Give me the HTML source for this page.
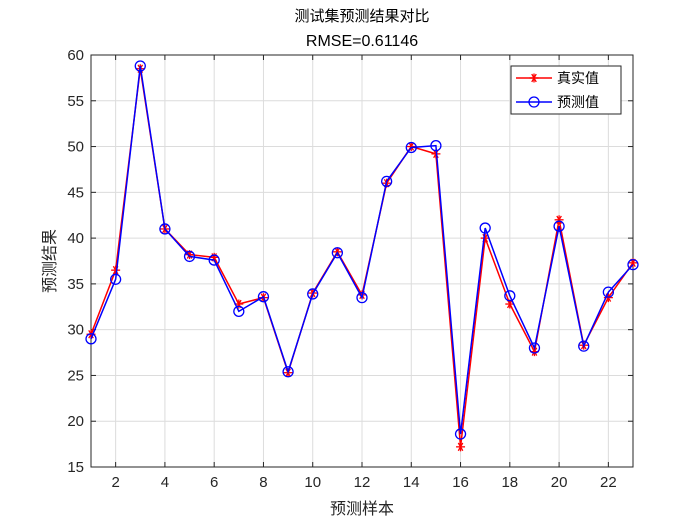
<!DOCTYPE html>
<html><head><meta charset="utf-8"><style>
body{margin:0;background:#fff;}
svg text{font-family:"Liberation Sans","Noto Sans CJK SC",sans-serif;}
</style></head><body>
<svg id="c" width="700" height="525" xmlns="http://www.w3.org/2000/svg"></svg>
<script>
const categories=[1,2,3,4,5,6,7,8,9,10,11,12,13,14,15,16,17,18,19,20,21,22,23];
const trueVals=[29.5,36.5,58.5,41.0,38.2,37.9,32.8,33.5,25.3,34.0,38.5,33.8,46.0,50.0,49.2,17.2,40.0,32.8,27.6,42.0,28.3,33.5,37.3];
const predVals=[29.0,35.5,58.8,41.0,38.0,37.6,32.0,33.6,25.4,33.9,38.4,33.5,46.2,49.9,50.1,18.6,41.1,33.7,28.0,41.3,28.2,34.1,37.1];
const xTicks=[2,4,6,8,10,12,14,16,18,20,22];
const yTicks=[15,20,25,30,35,40,45,50,55,60];
const L=91,R=633,T=55,B=467;
const X=v=>L+(v-1)/(22)*(R-L);
const Y=v=>B-(v-15)/45*(B-T);
const svg=document.getElementById('c');
const NS='http://www.w3.org/2000/svg';
function mk(t,a,p){const e=document.createElementNS(NS,t);for(const k in a)e.setAttribute(k,a[k]);(p||svg).appendChild(e);return e;}
let e;
e=mk('rect',{x:L,y:T,width:R-L,height:B-T,fill:'#fff'});


xTicks.forEach(t=>{
 e=mk('line',{x1:X(t),x2:X(t),y1:T,y2:B,stroke:'#dcdcdc','stroke-width':1});
 
 
 mk('line',{x1:X(t),x2:X(t),y1:B,y2:B-5,stroke:'#262626'});
 mk('line',{x1:X(t),x2:X(t),y1:T,y2:T+5,stroke:'#262626'});
 e=mk('text',{x:X(t),y:B+20,'text-anchor':'middle','font-size':15,fill:'#262626'});e.textContent=t;
 
 
});
yTicks.forEach(t=>{
 e=mk('line',{x1:L,x2:R,y1:Y(t),y2:Y(t),stroke:'#dcdcdc','stroke-width':1});
 
 
 mk('line',{x1:L,x2:L+5,y1:Y(t),y2:Y(t),stroke:'#262626'});
 mk('line',{x1:R,x2:R-5,y1:Y(t),y2:Y(t),stroke:'#262626'});
 e=mk('text',{x:L-7,y:Y(t)+5,'text-anchor':'end','font-size':15,fill:'#262626'});e.textContent=t;
 
 
});
e=mk('rect',{x:L,y:T,width:R-L,height:B-T,fill:'none',stroke:'#262626'});


function star(g,x,y,c){for(const a of [0,60,120]){const r=a*Math.PI/180;mk('line',{x1:x-4.5*Math.cos(r),y1:y-4.5*Math.sin(r),x2:x+4.5*Math.cos(r),y2:y+4.5*Math.sin(r),stroke:c,'stroke-width':1.3},g);}mk('line',{x1:x,x2:x,y1:y-4.5,y2:y+4.5,stroke:c,'stroke-width':1.3},g);}
let g=mk('g',{});


mk('polyline',{points:categories.map((c,i)=>X(c)+','+Y(trueVals[i])).join(' '),fill:'none',stroke:'#f00','stroke-width':1.5},g);
categories.forEach((c,i)=>star(g,X(c),Y(trueVals[i]),'#f00'));
g=mk('g',{});


mk('polyline',{points:categories.map((c,i)=>X(c)+','+Y(predVals[i])).join(' '),fill:'none',stroke:'#00f','stroke-width':1.5},g);
categories.forEach((c,i)=>{e=mk('circle',{cx:X(c),cy:Y(predVals[i]),r:5,fill:'none',stroke:'#00f','stroke-width':1.3},g);
 
 });
g=mk('g',{});


mk('rect',{x:511,y:66,width:110,height:48,fill:'#fff',stroke:'#262626'},g);
mk('line',{x1:516,x2:552,y1:78,y2:78,stroke:'#f00','stroke-width':1.5},g);star(g,534,78,'#f00');
e=mk('text',{x:557,y:83,'font-size':14,fill:'#000'},g);e.textContent='真实值';
mk('line',{x1:516,x2:552,y1:102,y2:102,stroke:'#00f','stroke-width':1.5},g);
mk('circle',{cx:534,cy:102,r:5,fill:'none',stroke:'#00f','stroke-width':1.3},g);
e=mk('text',{x:557,y:107,'font-size':14,fill:'#000'},g);e.textContent='预测值';
e=mk('text',{x:362,y:21,'text-anchor':'middle','font-size':15,fill:'#000'});e.textContent='测试集预测结果对比';


e=mk('text',{x:362,y:46,'text-anchor':'middle','font-size':16,fill:'#000'});e.textContent='RMSE=0.61146';


e=mk('text',{x:362,y:514,'text-anchor':'middle','font-size':16,fill:'#262626'});e.textContent='预测样本';


e=mk('text',{x:0,y:0,'text-anchor':'middle','font-size':16,fill:'#262626',transform:'translate(55,261) rotate(-90)'});e.textContent='预测结果';


</script>
</body></html>
